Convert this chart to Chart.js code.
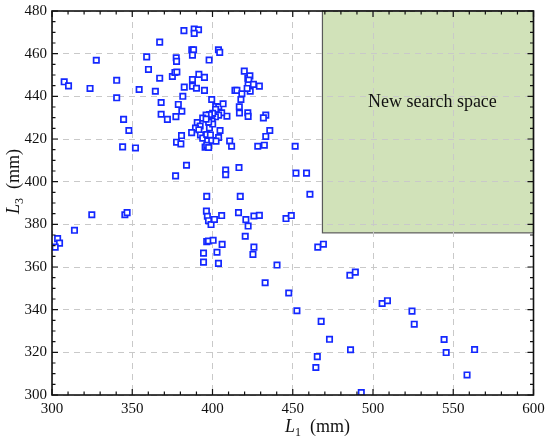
<!DOCTYPE html>
<html>
<head>
<meta charset="utf-8">
<script src="https://cdn.jsdelivr.net/npm/chart.js@4.4.1/dist/chart.umd.min.js"></script>
<style>
  html, body { margin: 0; padding: 0; background: #fff; }
</style>
</head>
<body>
<canvas id="chart" width="550" height="439"></canvas>
<script>
// L1 / L3 samples (mm)
const l1Values = [
  303.5, 304.7, 302.0, 314.0, 324.8, 345.4, 346.8, 377.0, 383.8, 396.4,
  396.2, 396.8, 397.5, 399.1, 401.2, 405.7, 408.2, 408.2, 416.5, 417.3,
  416.2, 420.8, 422.2, 420.4, 396.4, 397.5, 400.4, 406.0, 394.4, 402.8,
  394.4, 403.7, 382.2, 388.6, 391.3, 388.6, 367.1, 327.6, 359.0, 377.4,
  377.6, 387.1, 388.2, 387.5, 397.9, 403.7, 404.5, 419.8, 422.0, 423.3,
  422.6, 422.2, 425.5, 429.2, 423.5, 421.6, 414.0, 415.2, 418.3, 307.6,
  310.3, 323.7, 340.3, 360.1, 367.1, 375.0, 376.6, 377.8, 391.5, 395.0,
  387.5, 382.4, 387.5, 390.0, 395.0, 354.3, 364.4, 340.3, 381.5, 399.5,
  417.7, 368.0, 378.7, 402.0, 403.9, 406.6, 401.9, 416.7, 380.9, 368.0,
  371.9, 377.2, 344.6, 347.9, 344.0, 352.0, 416.8, 422.0, 422.2, 433.2,
  431.7, 409.0, 405.7, 403.8, 401.8, 400.1, 399.3, 398.1, 396.0, 393.9,
  390.5, 392.3, 398.5, 399.8, 398.1, 389.4, 391.5, 387.0, 392.5, 393.9,
  396.4, 398.7, 403.8, 404.7, 397.0, 399.5, 402.2, 395.4, 396.4, 397.6,
  380.7, 377.6, 380.3, 410.7, 411.9, 428.2, 432.3, 435.7, 433.2, 451.5,
  452.0, 458.6, 460.7, 425.8, 429.2, 445.8, 449.1, 425.8, 425.2, 465.6,
  469.1, 440.2, 485.6, 489.0, 432.8, 447.5, 452.6, 467.7, 472.9, 465.3,
  464.4, 486.0, 492.7, 505.7, 509.0, 524.3, 525.7, 544.3, 545.6, 563.3,
  558.6, 400.1, 397.6, 396.0
];
const l3Values = [
  373.3, 371.2, 369.3, 377.2, 384.5, 384.5, 385.5, 402.7, 407.7, 393.1,
  386.2, 383.8, 381.7, 379.9, 382.3, 384.1, 405.4, 403.3, 406.6, 393.1,
  385.5, 382.2, 379.2, 374.4, 371.9, 372.2, 372.5, 370.6, 366.5, 366.9,
  362.3, 361.7, 470.8, 471.5, 471.2, 469.5, 465.4, 456.9, 458.5, 458.1,
  456.4, 461.8, 461.8, 459.3, 457.0, 461.8, 460.6, 451.8, 448.5, 449.6,
  447.6, 445.4, 445.6, 444.8, 442.4, 443.7, 442.8, 442.8, 441.2, 446.8,
  444.9, 443.7, 447.5, 452.6, 448.5, 449.3, 451.2, 451.4, 450.3, 448.9,
  447.9, 444.3, 444.8, 443.8, 442.8, 443.2, 442.4, 439.3, 440.0, 438.5,
  438.5, 437.1, 436.2, 435.2, 435.1, 436.5, 433.9, 435.1, 433.0, 431.6,
  429.2, 430.5, 429.2, 424.0, 416.3, 415.8, 432.2, 432.3, 430.6, 431.2,
  429.9, 430.7, 432.3, 431.2, 430.4, 432.0, 429.6, 431.5, 431.2, 429.8,
  427.7, 426.1, 428.0, 428.4, 425.2, 425.1, 424.3, 423.0, 421.9, 420.4,
  422.1, 421.9, 420.7, 424.0, 419.1, 419.3, 419.0, 416.2, 417.0, 416.0,
  421.6, 418.5, 417.7, 419.1, 416.6, 416.6, 417.1, 424.0, 421.2, 416.6,
  404.0, 404.0, 394.1, 383.9, 384.2, 382.7, 384.1, 369.3, 365.9, 369.3,
  370.7, 360.9, 356.1, 357.6, 352.6, 347.8, 339.5, 334.5, 326.1, 318.0,
  312.9, 321.2, 301.1, 342.9, 344.2, 339.3, 333.2, 326.0, 319.9, 321.3,
  309.4, 427.0, 427.9, 429.3
];

const xTicks = [300, 350, 400, 450, 500, 550, 600];
const yTicks = [300, 320, 340, 360, 380, 400, 420, 440, 460, 480];
const xMinorStep = 10;
const yMinorStep = 5;

// shaded region: [L1 from, L1 to], [L3 from, L3 to]
const searchL1 = [468.5, 600];
const searchL3 = [376, 480];
const searchLabel = "New search space";
const searchLabelAt = [537, 437];

const serif = "'Liberation Serif', 'Times New Roman', serif";
const points = l1Values.map((v, i) => ({ x: v, y: l3Values[i] }));

const searchBox = {
  id: "searchBox",
  beforeDraw(chart) {
    const { ctx, scales: { x, y } } = chart;
    const x0 = x.getPixelForValue(searchL1[0]);
    const x1 = x.getPixelForValue(searchL1[1]);
    const y0 = y.getPixelForValue(searchL3[1]);
    const y1 = y.getPixelForValue(searchL3[0]);
    ctx.save();
    ctx.fillStyle = "#d1e2b9";
    ctx.fillRect(x0, y0, x1 - x0, y1 - y0);
    ctx.strokeStyle = "#5a5a5a";
    ctx.lineWidth = 1.2;
    ctx.strokeRect(x0, y0, x1 - x0, y1 - y0);
    ctx.restore();
  }
};

const frameAndTitles = {
  id: "frameAndTitles",
  afterDraw(chart) {
    const { ctx, chartArea: a, scales: { x, y } } = chart;
    ctx.save();

    // inward ticks on all four sides
    ctx.strokeStyle = "#111";
    ctx.lineWidth = 1.2;
    ctx.beginPath();
    for (let v = x.min; v <= x.max; v += xMinorStep) {
      const px = x.getPixelForValue(v);
      const len = (v % 50 === 0) ? 6 : 3.5;
      ctx.moveTo(px, a.bottom); ctx.lineTo(px, a.bottom - len);
      ctx.moveTo(px, a.top); ctx.lineTo(px, a.top + len);
    }
    for (let v = y.min; v <= y.max; v += yMinorStep) {
      const py = y.getPixelForValue(v);
      const len = (v % 20 === 0) ? 6 : 3.5;
      ctx.moveTo(a.left, py); ctx.lineTo(a.left + len, py);
      ctx.moveTo(a.right, py); ctx.lineTo(a.right - len, py);
    }
    ctx.stroke();

    ctx.lineWidth = 1.6;
    ctx.strokeRect(a.left, a.top, a.right - a.left, a.bottom - a.top);

    // label in the shaded region
    ctx.fillStyle = "#111";
    ctx.font = "18px " + serif;
    ctx.textAlign = "center";
    ctx.textBaseline = "middle";
    ctx.fillText(searchLabel, x.getPixelForValue(searchLabelAt[0]), y.getPixelForValue(searchLabelAt[1]));

    // axis titles with italic L and subscript
    ctx.textAlign = "left";
    ctx.textBaseline = "alphabetic";
    const drawTitle = (sub) => {
      ctx.font = "italic 18px " + serif;
      ctx.fillText("L", 0, 0);
      let w = ctx.measureText("L").width;
      ctx.font = "12px " + serif;
      ctx.fillText(sub, w, 4);
      w += ctx.measureText(sub).width;
      ctx.font = "18px " + serif;
      ctx.fillText("\u00a0 (mm)", w, 0);
    };

    ctx.save();
    ctx.translate(285, 432);
    drawTitle("1");
    ctx.restore();

    ctx.save();
    ctx.translate(19, 214);
    ctx.rotate(-Math.PI / 2);
    drawTitle("3");
    ctx.restore();

    ctx.restore();
  }
};

new Chart(document.getElementById("chart"), {
  type: "scatter",
  data: {
    datasets: [{
      data: points,
      pointStyle: "rect",
      pointRadius: 3.8,
      pointHoverRadius: 3.8,
      borderWidth: 1.7,
      borderColor: "rgb(20, 40, 255)",
      backgroundColor: "#ffffff"
    }]
  },
  options: {
    responsive: false,
    animation: false,
    events: [],
    layout: { padding: { top: 11, right: 16.5, bottom: 0, left: 0 } },
    plugins: {
      legend: { display: false },
      tooltip: { enabled: false }
    },
    scales: {
      x: {
        type: "linear",
        min: 300,
        max: 600,
        afterBuildTicks: s => { s.ticks = xTicks.map(v => ({ value: v })); },
        afterFit: s => { s.height = 44; s.paddingLeft = 0; s.paddingRight = 0; },
        ticks: { color: "#111", font: { family: serif, size: 15 }, padding: 5, maxRotation: 0 },
        grid: { color: "#c9c9c9", lineWidth: 1, drawTicks: false },
        border: { display: false, dash: [6, 5] }
      },
      y: {
        type: "linear",
        min: 300,
        max: 480,
        afterBuildTicks: s => { s.ticks = yTicks.map(v => ({ value: v })); },
        afterFit: s => { s.width = 52; s.paddingTop = 0; s.paddingBottom = 0; },
        ticks: { color: "#111", font: { family: serif, size: 15 }, padding: 5 },
        grid: { color: "#c9c9c9", lineWidth: 1, drawTicks: false },
        border: { display: false, dash: [6, 5] }
      }
    }
  },
  plugins: [searchBox, frameAndTitles]
});
</script>
</body>
</html>
